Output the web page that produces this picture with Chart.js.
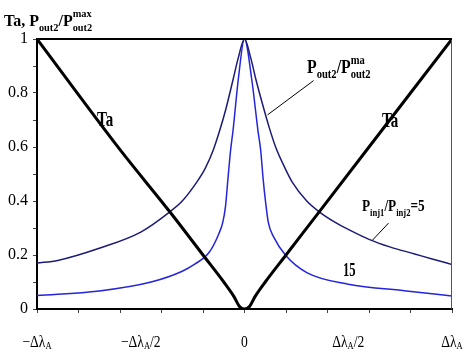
<!DOCTYPE html>
<html lang="en">
<head>
    <meta charset="UTF-8">
    <title>Ta and Pout2 vs detuning</title>
    <script src="https://cdn.jsdelivr.net/npm/chart.js"></script>
    <style>
        body {
            margin: 0;
            padding: 0;
            background: #fff;
        }
        #chart {
            display: block;
        }
    </style>
</head>
<body>
    <canvas id="chart" width="474" height="363"></canvas>
    <script>
        // detuning in units of delta lambda_A
        const taX = [-1, -0.6, -0.36, -0.2, -0.1, -0.05, -0.025, 0, 0.025, 0.05, 0.1, 0.2, 0.36, 0.6, 1];
        const taY = [1, 0.59, 0.36, 0.2, 0.1, 0.045, 0.01, 0, 0.01, 0.045, 0.1, 0.2, 0.36, 0.6, 1];

        // Pinj1/Pinj2 = 5
        const p5X = [-1, -0.9, -0.7, -0.5, -0.36, -0.3, -0.23, -0.19, -0.15, -0.12, -0.09, -0.055, -0.03, 0, 0.03, 0.055, 0.09, 0.12, 0.15, 0.19, 0.23, 0.3, 0.36, 0.45, 0.5, 0.6, 0.7, 0.82, 0.9, 1];
        const p5Y = [0.17, 0.18, 0.225, 0.285, 0.36, 0.4, 0.47, 0.52, 0.59, 0.66, 0.74, 0.85, 0.93, 1, 0.93, 0.85, 0.75, 0.67, 0.6, 0.53, 0.47, 0.4, 0.36, 0.315, 0.295, 0.258, 0.23, 0.204, 0.186, 0.165];

        // Pinj1/Pinj2 = 15
        const p15X = [-1, -0.7, -0.45, -0.3, -0.24, -0.17, -0.124, -0.105, -0.092, -0.08, -0.067, -0.055, -0.03, 0, 0.035, 0.065, 0.078, 0.09, 0.101, 0.115, 0.141, 0.2, 0.3, 0.5, 0.78, 1];
        const p15Y = [0.05, 0.067, 0.1, 0.14, 0.166, 0.21, 0.278, 0.32, 0.377, 0.48, 0.588, 0.663, 0.85, 1, 0.85, 0.66, 0.588, 0.48, 0.4, 0.32, 0.266, 0.197, 0.135, 0.092, 0.067, 0.048];

        const xTickValues = [-1, -0.5, 0, 0.5, 1];
        const xTickLabels = ['−Δλ_{A}', '−Δλ_{A}/2', '0', 'Δλ_{A}/2', 'Δλ_{A}'];

        function pts(xs, ys) {
            return xs.map((x, i) => ({ x: x, y: ys[i] }));
        }

        // tiny rich text: _{sub} and ^{sup}, a sup right after a sub is stacked on it
        function parseRich(s) {
            const out = [];
            let buf = '';
            let i = 0;
            while (i < s.length) {
                const c = s[i];
                if ((c === '_' || c === '^') && s[i + 1] === '{') {
                    if (buf) { out.push({ k: 'n', t: buf }); buf = ''; }
                    const j = s.indexOf('}', i);
                    out.push({ k: c === '_' ? 'sub' : 'sup', t: s.slice(i + 2, j) });
                    i = j + 1;
                } else {
                    buf += c;
                    i++;
                }
            }
            if (buf) out.push({ k: 'n', t: buf });
            return out;
        }

        function drawRich(ctx, s, x, y, o) {
            const parts = parseRich(s);
            const font = (sz) => (o.bold ? 'bold ' : '') + sz + 'px "Liberation Serif", "Times New Roman", serif';
            const small = Math.round(o.size * (o.small || 0.66));
            const subDy = o.subDy !== undefined ? o.subDy : 0.28;
            ctx.save();
            const items = [];
            let cx = 0;
            let subStart = 0;
            parts.forEach((p, idx) => {
                const sz = p.k === 'n' ? o.size : small;
                ctx.font = font(sz);
                const w = ctx.measureText(p.t).width;
                let px = cx;
                let dy = 0;
                if (p.k === 'sub') { dy = o.size * subDy; subStart = px; }
                if (p.k === 'sup') dy = -o.size * 0.52;
                if (p.k === 'sup' && idx > 0 && parts[idx - 1].k === 'sub') {
                    px = subStart;
                    cx = Math.max(cx, px + w);
                } else {
                    cx = px + w;
                }
                items.push({ t: p.t, sz: sz, x: px, dy: dy });
            });
            const off = o.align === 'center' ? -cx / 2 : 0;
            ctx.translate(x, y);
            ctx.scale(o.sx || 1, 1);
            ctx.fillStyle = '#000';
            ctx.textBaseline = 'alphabetic';
            ctx.textAlign = 'left';
            items.forEach(it => {
                ctx.font = font(it.sz);
                ctx.fillText(it.t, it.x + off, it.dy);
            });
            ctx.restore();
        }

        const decorations = {
            id: 'decorations',
            afterDatasetsDraw(chart) {
                const ctx = chart.ctx;
                const a = chart.chartArea;
                const xs = chart.scales.x;
                const ys = chart.scales.y;
                ctx.save();
                // frame top and right
                ctx.strokeStyle = '#555';
                ctx.lineWidth = 1;
                ctx.beginPath();
                ctx.moveTo(a.right - 0.5, a.top);
                ctx.lineTo(a.right - 0.5, a.bottom);
                ctx.stroke();
                ctx.strokeStyle = '#000';
                ctx.lineWidth = 2;
                ctx.beginPath();
                ctx.moveTo(a.left, a.top);
                ctx.lineTo(a.right, a.top);
                ctx.stroke();

                // leader lines
                ctx.lineWidth = 1;
                ctx.beginPath();
                ctx.moveTo(xs.getPixelForValue(0.111), ys.getPixelForValue(0.719));
                ctx.lineTo(xs.getPixelForValue(0.333), ys.getPixelForValue(0.846));
                ctx.moveTo(xs.getPixelForValue(0.617), ys.getPixelForValue(0.255));
                ctx.lineTo(xs.getPixelForValue(0.694), ys.getPixelForValue(0.318));
                ctx.stroke();
                ctx.restore();

                // x tick labels
                xTickValues.forEach((v, i) => {
                    drawRich(ctx, xTickLabels[i], xs.getPixelForValue(v), 347, { size: 16, sx: 0.85, align: 'center', small: 0.6, subDy: 0.1 });
                });

                // titles and annotations
                drawRich(ctx, 'Ta, P_{out2}/P_{out2}^{max}', 4, 26, { size: 17, bold: true, sx: 0.94 });
                drawRich(ctx, 'Ta', 97, 126, { size: 20, bold: true, sx: 0.75 });
                drawRich(ctx, 'Ta', 382, 127, { size: 20, bold: true, sx: 0.75 });
                drawRich(ctx, 'P_{out2}/P_{out2}^{ma}', 307, 73, { size: 18, bold: true, sx: 0.88 });
                drawRich(ctx, 'P_{inj1}/P_{inj2}=5', 362, 211, { size: 17, bold: true, sx: 0.78 });
                drawRich(ctx, '15', 343, 276, { size: 18, bold: true, sx: 0.7 });
            }
        };

        const chart = new Chart(document.getElementById('chart'), {
            type: 'line',
            data: {
                datasets: [
                    {
                        label: 'Ta',
                        data: pts(taX, taY),
                        borderColor: '#000',
                        borderWidth: 3,
                        cubicInterpolationMode: 'monotone'
                    },
                    {
                        label: 'Pinj1/Pinj2=5',
                        data: pts(p5X, p5Y),
                        borderColor: '#1c1c78',
                        borderWidth: 1.5,
                        cubicInterpolationMode: 'monotone'
                    },
                    {
                        label: '15',
                        data: pts(p15X, p15Y),
                        borderColor: '#2424dc',
                        borderWidth: 1.5,
                        cubicInterpolationMode: 'monotone'
                    }
                ]
            },
            options: {
                responsive: false,
                devicePixelRatio: 1,
                animation: false,
                layout: { padding: { top: 39, right: 22, left: 0, bottom: 0 } },
                elements: { point: { radius: 0 } },
                plugins: {
                    legend: { display: false },
                    tooltip: { enabled: false }
                },
                scales: {
                    x: {
                        type: 'linear',
                        min: -1,
                        max: 1,
                        afterFit: (s) => { s.height = 54; },
                        ticks: { display: false, stepSize: 0.2 },
                        grid: { drawOnChartArea: false, drawTicks: true, tickLength: 4, color: '#444' },
                        border: { color: '#000', width: 2 }
                    },
                    y: {
                        min: 0,
                        max: 1,
                        afterFit: (s) => { s.width = 37; },
                        ticks: {
                            stepSize: 0.1,
                            padding: 5,
                            color: '#000',
                            font: { family: '"Liberation Serif", serif', size: 16 },
                            callback: (v) => {
                                const k = Math.round(v * 10);
                                if (k % 2 !== 0) return '';
                                return k === 0 ? '0' : k === 10 ? '1' : (k / 10).toFixed(1);
                            }
                        },
                        grid: { drawOnChartArea: false, drawTicks: true, tickLength: 4, color: '#444' },
                        border: { color: '#000', width: 2 }
                    }
                }
            },
            plugins: [decorations]
        });
    </script>
</body>
</html>
